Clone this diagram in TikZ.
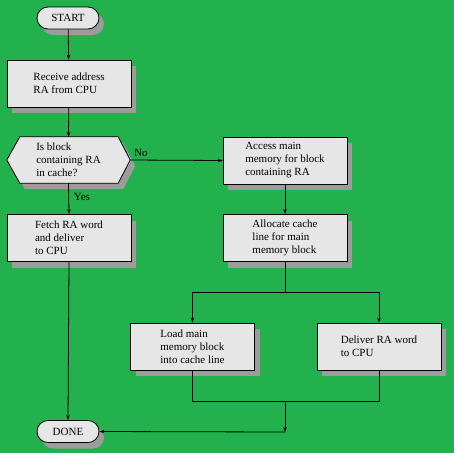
\documentclass[tikz,border=0pt]{standalone}
\usepackage{fontspec}
\setmainfont{Liberation Serif}
\usetikzlibrary{arrows.meta}
\definecolor{bggreen}{HTML}{22B14C}
\definecolor{boxfill}{HTML}{E6E6E6}
\definecolor{shadowgray}{HTML}{9C9C9C}
\begin{document}
\begin{tikzpicture}[x=1pt,y=-1pt,
  font=\fontsize{11}{13}\selectfont,
  shad/.style={preaction={fill=shadowgray,draw=none,transform canvas={xshift=5pt,yshift=-6pt}}},
  procbox/.style={shad,draw=black,line width=0.8pt,fill=boxfill,align=left,
    minimum width=124pt,minimum height=47pt,inner sep=0pt},
  termbox/.style={shad,draw=black,line width=0.8pt,fill=boxfill,rounded corners=11pt,
    minimum width=62pt,minimum height=22pt,inner sep=0pt},
  conn/.style={draw=black,line width=0.8pt},
  arr/.style={conn,-{Stealth[length=5pt,width=3.5pt]}},
  lbl/.style={inner sep=0pt}]
\useasboundingbox[fill=bggreen] (0,0) rectangle (454,453);

\node[termbox] (start) at (68,18) {START};
\node[procbox] (recv) at (69,83.5) {Receive address\\RA from CPU};

% decision hexagon
\node[minimum width=123pt,minimum height=46pt,inner sep=0pt] (q) at (68.5,160) {};
\fill[shadowgray,transform canvas={xshift=5pt,yshift=-6pt}] (q.west) -- ([xshift=13pt]q.north west) -- ([xshift=-12pt]q.north east) -- (q.east) -- ([xshift=-12pt]q.south east) -- ([xshift=13pt]q.south west) -- cycle;
\draw[line width=0.8pt,fill=boxfill] (q.west) -- ([xshift=13pt]q.north west) -- ([xshift=-12pt]q.north east) -- (q.east) -- ([xshift=-12pt]q.south east) -- ([xshift=13pt]q.south west) -- cycle;
\node[align=left,inner sep=0pt] (qt) at (q.center) {Is block\\containing RA\\in cache?};

\node[procbox] (fetch) at (69,238) {Fetch RA word\\and deliver\\to CPU};
\node[procbox] (access) at (285,160.5) {Access main\\memory for block\\containing RA};
\node[procbox] (alloc) at (285,238) {Allocate cache\\line for main\\memory block};
\node[procbox] (load) at (192.5,346.5) {Load main\\memory block\\into cache line};
\node[procbox] (deliver) at (379,346.5) {Deliver RA word\\to CPU};
\node[termbox] (done) at (68,431.5) {DONE};

\node[lbl] (no) at (141,153) {No};
\node[lbl] (yes) at (82,197) {Yes};

\coordinate (split) at (285,292);
\coordinate (merge) at (285,401);
\coordinate (join) at (285,432);

\draw[arr] (start) -- (recv);
\draw[arr] (recv) -- (q.north);
\draw[arr] (q.east) -- (access.west);
\draw[arr] (q.south) -- (fetch.north);
\draw[arr] (access) -- (alloc);
\draw[conn] (alloc.south) -- (split);
\draw[arr] (split) -| (load.north);
\draw[arr] (split) -| (deliver.north);
\draw[conn] (load.south) |- (merge);
\draw[conn] (deliver.south) |- (merge);
\draw[arr] (merge) -- (join);
\draw[arr] (join) -- (done.east);
\draw[arr] (fetch.south) -- (done.north);
\end{tikzpicture}
\end{document}
